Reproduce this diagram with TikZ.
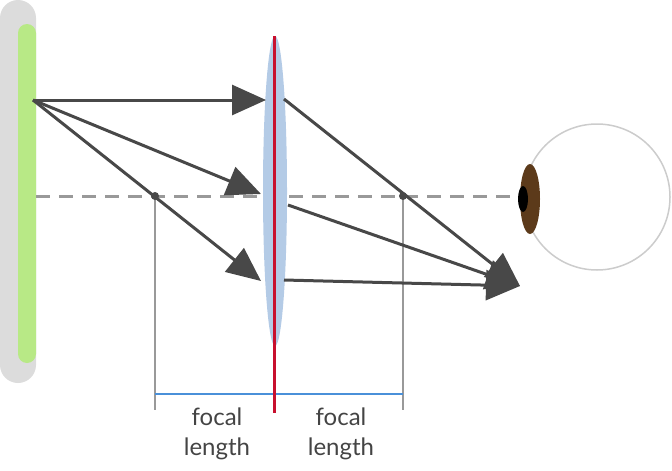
\documentclass[tikz,border=0pt]{standalone}
\usepackage{fontspec}
\setmainfont{Lato}
\usetikzlibrary{arrows.meta}
\definecolor{raygray}{HTML}{484848}
\definecolor{axisgray}{HTML}{999999}
\definecolor{barbg}{HTML}{DCDCDC}
\definecolor{bargreen}{HTML}{B8E986}
\definecolor{lensblue}{HTML}{B4CBE6}
\definecolor{lensred}{HTML}{C8102E}
\definecolor{fblue}{HTML}{4A90D9}
\definecolor{iris}{HTML}{5C3A1A}
\definecolor{txt}{HTML}{444444}
\tikzset{
  ray/.style={draw=raygray,line width=3pt},
  rayarrow/.style={ray,-{Triangle[length=34pt,width=30pt]}},
  guide/.style={draw=axisgray,line width=2.5pt},
  lbl/.style={text=txt,font=\fontsize{24}{30}\selectfont,align=center},
}
\begin{document}
\begin{tikzpicture}[x=1pt,y=-1pt]
\useasboundingbox (0,0) rectangle (672,471);
% source bar
\fill[barbg,rounded corners=18pt] (0,0) rectangle (36,383);
\fill[bargreen,rounded corners=9pt] (18,24) rectangle (36,363);
% axis
\draw[axisgray,line width=3pt,dash pattern=on 14pt off 9pt] (36,196) -- (525,196);
% lens
\fill[lensblue] (275,191) ellipse [x radius=12,y radius=155];
% focal guides
\coordinate (f1) at (155,196);
\coordinate (f2) at (403,196);
\draw[guide] (f1) -- (155,410);
\draw[guide] (f2) -- (403,410);
\draw[fblue,line width=2.5pt] (155,394) -- (403,394);
% red lens line
\draw[lensred,line width=3pt] (274,36) -- (274,413);
% rays
\coordinate (src) at (33,100);
\coordinate (l1) at (266,100);
\coordinate (l2) at (261,194);
\coordinate (l3) at (261,281);
\coordinate (r1) at (284,99);
\coordinate (r2) at (288,205);
\coordinate (r3) at (284,280);
\coordinate (img) at (520,286);
\draw[rayarrow] (src) -- (l1);
\draw[rayarrow] (src) -- (l2);
\draw[rayarrow] (src) -- (l3);
\draw[rayarrow] (r1) -- (img);
\draw[rayarrow] (r2) -- (img);
\draw[rayarrow] (r3) -- (img);
\fill[raygray] (f1) circle (4);
\fill[raygray] (f2) circle (4);
% eye
\draw[black!20,line width=1.5pt,fill=white] (597,197) circle (73);
\fill[iris] (530,199) ellipse [x radius=10,y radius=35];
\fill[black] (523,199) ellipse [x radius=5,y radius=13];
% labels
\node[lbl] (t1) at (217,434) {focal\\length};
\node[lbl] (t2) at (341,434) {focal\\length};
\end{tikzpicture}
\end{document}
